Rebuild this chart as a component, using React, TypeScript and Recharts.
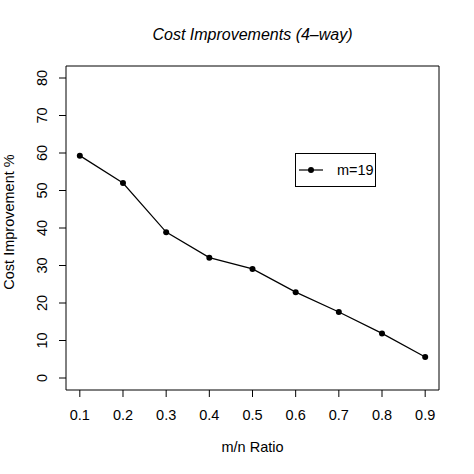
import { LineChart, Line, XAxis, YAxis, ReferenceArea } from 'recharts'

const ratios = [0.1, 0.2, 0.3, 0.4, 0.5, 0.6, 0.7, 0.8, 0.9]
const costImprovement = [59.3, 52.0, 38.9, 32.1, 29.1, 22.9, 17.6, 11.9, 5.6]
const yTicks = [0, 10, 20, 30, 40, 50, 60, 70, 80]
const seriesName = 'm=19'

const data = ratios.map((r, i) => ({ ratio: r, cost: costImprovement[i] }))

const xDomain = [0.068, 0.932]
const yDomain = [-3.2, 83.2]
const font = '"Liberation Sans", Arial, Helvetica, sans-serif'

const XTick = (props: any) => (
  <text x={props.x} y={420} textAnchor="middle" fontSize={14.5} fontFamily={font} fill="#000">
    {Number(props.payload.value).toFixed(1)}
  </text>
)

const YTick = (props: any) => (
  <text
    x={47}
    y={props.y}
    textAnchor="middle"
    fontSize={14.5}
    fontFamily={font}
    fill="#000"
    transform={`rotate(-90 47 ${props.y})`}
  >
    {props.payload.value}
  </text>
)

export default function App() {
  return (
    <div style={{ position: 'absolute', left: 0, top: 0, width: 474, height: 474, background: '#fff' }}>
      <LineChart width={474} height={474} data={data} margin={{ top: 66, right: 35, left: 0, bottom: 0 }}>
        <XAxis
          dataKey="ratio"
          type="number"
          domain={xDomain}
          ticks={ratios}
          allowDataOverflow
          axisLine={false}
          tickLine={{ stroke: '#000' }}
          tickSize={7}
          height={84}
          tick={<XTick />}
        />
        <YAxis
          type="number"
          domain={yDomain}
          ticks={yTicks}
          allowDataOverflow
          axisLine={false}
          tickLine={{ stroke: '#000' }}
          tickSize={7}
          width={66}
          tick={<YTick />}
        />
        <ReferenceArea
          x1={xDomain[0]} x2={xDomain[1]} y1={yDomain[0]} y2={yDomain[1]}
          fill="none" fillOpacity={0} stroke="#000" strokeWidth={1} strokeOpacity={1}
        />
        <Line
          dataKey="cost"
          name={seriesName}
          stroke="#000"
          strokeWidth={1.2}
          dot={{ r: 3, fill: '#000', stroke: '#000', strokeWidth: 0 }}
          isAnimationActive={false}
        />
        {/* legend box, R style */}
        <g>
          <rect x={295.5} y={153.5} width={80} height={33} fill="#fff" stroke="#000" strokeWidth={1} />
          <line x1={299} y1={170} x2={323} y2={170} stroke="#000" strokeWidth={1.2} />
          <circle cx={311} cy={170} r={3} fill="#000" />
          <text x={337} y={175} fontSize={14.5} fontFamily={font} fill="#000">{seriesName}</text>
        </g>
        <text x={252.5} y={40} textAnchor="middle" fontSize={16} fontStyle="italic" fontFamily={font} fill="#000">
          Cost Improvements (4–way)
        </text>
        <text x={252.5} y={452} textAnchor="middle" fontSize={14.5} fontFamily={font} fill="#000">
          m/n Ratio
        </text>
        <text x={14} y={222} textAnchor="middle" fontSize={14.5} fontFamily={font} fill="#000" transform="rotate(-90 14 222)">
          Cost Improvement %
        </text>
      </LineChart>
    </div>
  )
}
